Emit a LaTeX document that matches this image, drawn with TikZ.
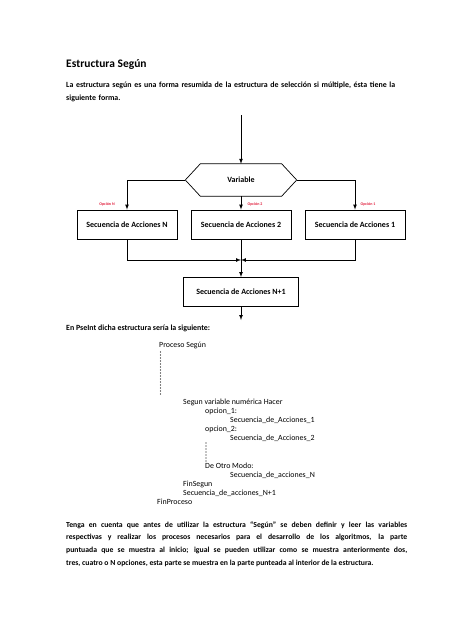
\documentclass[tikz,border=0pt]{standalone}
\usepackage{fontspec}
\setmainfont{Carlito}
\usepackage{xcolor}
\usetikzlibrary{calc}
\definecolor{opred}{RGB}{225,30,60}

\tikzset{
  caja/.style={draw, line width=0.8pt, minimum width=100pt, minimum height=29pt, inner sep=0pt, font=\fontsize{8}{9}\selectfont\bfseries},
  opcion/.style={text=opred, inner sep=0pt, font=\fontsize{4}{5}\selectfont\bfseries},
  codigo/.style={anchor=base west, inner sep=0pt, font=\fontsize{7.9}{9}\selectfont},
  flecha/.style={->, >=latex, line width=0.7pt}
}

\begin{document}
\begin{tikzpicture}[x=1pt,y=-1pt]
  \useasboundingbox[fill=white] (0,0) rectangle (474,632);
  % textos de la pagina
  \node[anchor=base west, inner sep=0pt, font=\fontsize{11.5}{13}\selectfont\bfseries] (titulo) at (66,67) {Estructura Según};
  \node[anchor=base west, inner sep=0pt, text width=380pt, align=left, font=\fontsize{7.9}{13}\selectfont\bfseries] (intro) at (66,87)
    {La estructura según es una forma resumida de la estructura de selección si múltiple, ésta tiene la\\siguiente forma.};

  % diagrama
  \coordinate (inicio) at (241,115);
  \node[minimum width=111pt, minimum height=32pt, inner sep=0pt, font=\fontsize{8}{9}\selectfont\bfseries] (var) at (241,180) {Variable};
  \draw[line width=0.7pt] (var.west) -- ($(var.north west)+(15,0)$) -- ($(var.north east)+(-15,0)$) -- (var.east)
    -- ($(var.south east)+(-15,0)$) -- ($(var.south west)+(15,0)$) -- cycle;
  \node[caja] (accN) at (127,224.5) {Secuencia de Acciones N};
  \node[caja] (acc2) at (241,224.5) {Secuencia de Acciones 2};
  \node[caja] (acc1) at (355,224.5) {Secuencia de Acciones 1};
  \node[caja, minimum width=115pt] (accN1) at (241,292) {Secuencia de Acciones N+1};
  \node[opcion] (opN) at (107,204) {Opción N};
  \node[opcion] (op2) at (255,204) {Opción 2};
  \node[opcion] (op1) at (368,204) {Opción 1};
  \coordinate (union) at (241,260);
  \coordinate (fin) at (241,320);
  \draw[flecha] (inicio) -- (var.north);
  \draw[flecha] (var.west) -| (accN.north);
  \draw[flecha] (var.south) -- (acc2.north);
  \draw[flecha] (var.east) -| (acc1.north);
  \draw[flecha] (accN.south) |- (union);
  \draw[flecha] (acc1.south) |- (union);
  \draw[line width=0.7pt] (acc2.south) -- (union);
  \draw[flecha] (union) -- (accN1.north);
  \draw[flecha] (accN1.south) -- (fin);

  \node[anchor=base west, inner sep=0pt, font=\fontsize{7.9}{9}\selectfont\bfseries] (pseint) at (66,330) {En PseInt dicha estructura sería la siguiente:};

  % pseudocodigo
  \node[codigo] (proc) at (159,347) {Proceso Según};
  \foreach \i in {0,...,14}
    \fill (160.5,352+3*\i) circle (0.55pt);
  \node[codigo] (segun) at (183,404) {Segun variable numérica Hacer};
  \node[codigo] (opc1) at (205,413) {opcion\_1:};
  \node[codigo] (sec1) at (230,422) {Secuencia\_de\_Acciones\_1};
  \node[codigo] (opc2) at (205,431) {opcion\_2:};
  \node[codigo] (sec2) at (230,440) {Secuencia\_de\_Acciones\_2};
  \foreach \i in {0,...,6}
    \fill (206,443+3*\i) circle (0.55pt);
  \node[codigo] (otro) at (205,468) {De Otro Modo:};
  \node[codigo] (secN) at (230,477) {Secuencia\_de\_acciones\_N};
  \node[codigo] (finseg) at (183,486) {FinSegun};
  \node[codigo] (secN1) at (183,495) {Secuencia\_de\_acciones\_N+1};
  \node[codigo] (finproc) at (157,504) {FinProceso};

  % nota final
  \node[anchor=base west, inner sep=0pt, text width=341pt, align=justify, font=\fontsize{7.7}{12.8}\selectfont\bfseries] (nota) at (66,527)
    {Tenga en cuenta que antes de utilizar la estructura “Según” se deben definir y leer las variables\linebreak
     respectivas y realizar los procesos necesarios para el desarrollo de los algoritmos, la parte\linebreak
     puntuada que se muestra al inicio; igual se pueden utilizar como se muestra anteriormente dos,\linebreak
     tres, cuatro o N opciones, esta parte se muestra en la parte punteada al interior de la estructura.};
\end{tikzpicture}
\end{document}
